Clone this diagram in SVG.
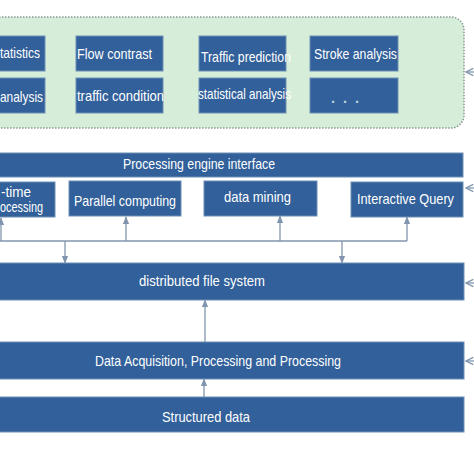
<svg xmlns="http://www.w3.org/2000/svg" width="474" height="474" viewBox="0 0 474 474">
<defs>
<style>
.box{fill:#31609a;stroke:#6f8fb5;stroke-width:1}
.t{fill:#ffffff;font-family:"Liberation Sans",Arial,sans-serif;font-size:14.5px}
.c{stroke:#8196ae;stroke-width:1.3;fill:none}
</style>
<marker id="ah" viewBox="0 0 10 10" refX="9" refY="5" markerWidth="6" markerHeight="6" orient="auto-start-reverse">
<path d="M0,1 L10,5 L0,9 z" fill="#8196ae"/>
</marker>
<marker id="ao" viewBox="0 0 10 10" refX="9" refY="5" markerWidth="7" markerHeight="7" orient="auto">
<path d="M1,1 L9,5 L1,9" fill="none" stroke="#8196ae" stroke-width="1.5"/>
</marker>
</defs>
<rect width="474" height="474" fill="#ffffff"/>
<g id="panel">
<rect x="-20" y="17" width="484" height="111" rx="13" fill="#d6eed9" stroke="#8c9896" stroke-width="1.5" stroke-dasharray="1.5 1.5"/>
</g>
<g id="n-statistics"><rect class="box" x="-10" y="36" width="55" height="35"/><text class="t" x="0" y="58" textLength="40" lengthAdjust="spacingAndGlyphs">tatistics</text></g>
<g id="n-analysis"><rect class="box" x="-10" y="78" width="55" height="35"/><text class="t" x="0" y="102" textLength="43" lengthAdjust="spacingAndGlyphs">analysis</text></g>
<g id="n-flow"><rect class="box" x="76" y="36" width="87" height="35"/><text class="t" x="77" y="59" textLength="75" lengthAdjust="spacingAndGlyphs">Flow contrast</text></g>
<g id="n-condition"><rect class="box" x="76" y="78" width="87" height="35"/><text class="t" x="77" y="101" textLength="87" lengthAdjust="spacingAndGlyphs">traffic condition</text></g>
<g id="n-prediction"><rect class="box" x="199" y="36" width="87" height="35"/><text class="t" x="201" y="62" textLength="90" lengthAdjust="spacingAndGlyphs">Traffic prediction</text></g>
<g id="n-statanalysis"><rect class="box" x="199" y="78" width="87" height="35"/><text class="t" x="198" y="99" textLength="93" lengthAdjust="spacingAndGlyphs">statistical analysis</text></g>
<g id="n-stroke"><rect class="box" x="310" y="36" width="88" height="35"/><text class="t" x="314" y="59" textLength="83" lengthAdjust="spacingAndGlyphs">Stroke analysis</text></g>
<g id="n-more"><rect class="box" x="310" y="78" width="88" height="35"/><text class="t" x="349" y="103" text-anchor="middle" font-size="16" font-weight="bold" letter-spacing="8" fill="#b9c8dc" style="fill:#c4d2e4">...</text></g>
<g id="n-engine"><rect class="box" x="-10" y="153" width="473" height="24"/><text class="t" x="123" y="169" textLength="152" lengthAdjust="spacingAndGlyphs">Processing engine interface</text></g>
<g id="n-realtime"><rect class="box" x="-10" y="182" width="65" height="35"/><text class="t" x="1" y="197" textLength="30" lengthAdjust="spacingAndGlyphs">-time</text><text class="t" x="0" y="212" textLength="43" lengthAdjust="spacingAndGlyphs">ocessing</text></g>
<g id="n-parallel"><rect class="box" x="69" y="181" width="112" height="35"/><text class="t" x="74" y="206" textLength="102" lengthAdjust="spacingAndGlyphs">Parallel computing</text></g>
<g id="n-mining"><rect class="box" x="204" y="181" width="113" height="35"/><text class="t" x="224" y="202" textLength="67" lengthAdjust="spacingAndGlyphs">data mining</text></g>
<g id="n-query"><rect class="box" x="351" y="182" width="112" height="35"/><text class="t" x="357" y="204" textLength="97" lengthAdjust="spacingAndGlyphs">Interactive Query</text></g>
<g id="n-dfs"><rect class="box" x="-10" y="263" width="474" height="37"/><text class="t" x="139" y="286" textLength="126" lengthAdjust="spacingAndGlyphs">distributed file system</text></g>
<g id="n-acq"><rect class="box" x="-10" y="342" width="474" height="37"/><text class="t" x="95" y="366" textLength="246" lengthAdjust="spacingAndGlyphs">Data Acquisition, Processing and Processing</text></g>
<g id="n-structured"><rect class="box" x="-10" y="397" width="474" height="35"/><text class="t" x="162" y="422" textLength="88" lengthAdjust="spacingAndGlyphs">Structured data</text></g>
<g id="connectors">
<path class="c" d="M-2,241 H407"/>
<path class="c" d="M1,241 V218" marker-end="url(#ah)"/>
<path class="c" d="M126,241 V217" marker-end="url(#ah)"/>
<path class="c" d="M280,241 V216" marker-end="url(#ah)"/>
<path class="c" d="M407,241 V217" marker-end="url(#ah)"/>
<path class="c" d="M65,241 V263" marker-end="url(#ah)"/>
<path class="c" d="M342,241 V263" marker-end="url(#ah)"/>
<path class="c" d="M205,342 V300" marker-end="url(#ah)"/>
<path class="c" d="M204,397 V379" marker-end="url(#ah)"/>
<path class="c" d="M476,72 H466" marker-end="url(#ao)"/>
<path class="c" d="M476,188 H466" marker-end="url(#ao)"/>
<path class="c" d="M476,283 H466" marker-end="url(#ao)"/>
<path class="c" d="M476,361 H466" marker-end="url(#ao)"/>
</g>
</svg>
